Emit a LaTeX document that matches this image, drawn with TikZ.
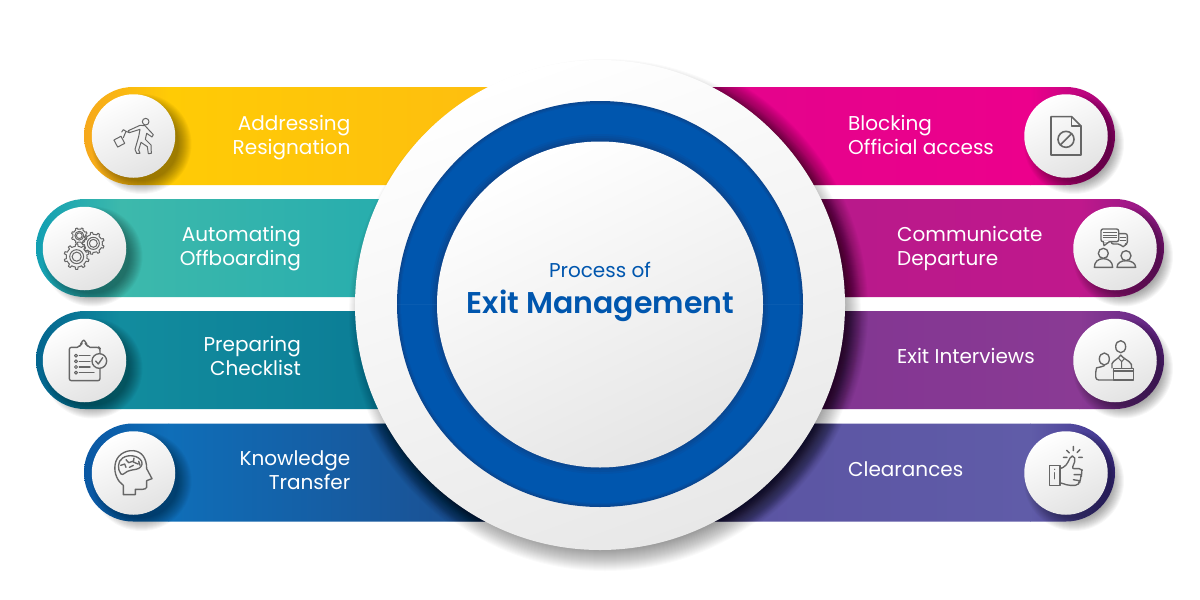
\documentclass[tikz,border=0pt]{standalone}
\usepackage{fontspec}
\setmainfont{Poppins}[BoldFont={Poppins SemiBold}]
\usetikzlibrary{calc}
\definecolor{iconc}{HTML}{666666}
\definecolor{ringblue}{HTML}{0056AE}
\definecolor{ringdark}{HTML}{0A4690}
\tikzset{
  iconline/.style={draw=iconc,line width=1.35pt,line join=round,line cap=round,fill=none},
  iconthin/.style={draw=iconc,line width=1pt,line join=round,line cap=round,fill=none},
  iconcircle/.style={circle,inner sep=0pt,minimum size=83.5pt,top color=white,bottom color=black!11,shading angle=25},
  lefttext/.style={anchor=base east,inner sep=0pt,text=white,font=\fontsize{20}{24}\selectfont},
  righttext/.style={anchor=base west,inner sep=0pt,text=white,font=\fontsize{20}{24}\selectfont},
  crop/.style={x=.33333pt,y=-.33333pt}
}
\newcommand{\softshadow}[5]{% x y r steps opacity
  \foreach \k in {1,...,#4}{
    \pgfmathsetmacro{\rr}{#3+\k}
    \fill[black,opacity=#5] (#1,#2) circle[radius=\rr];
  }}
\newcommand{\leftbar}[5]{% top xl cap c1 c2
  \begin{scope}
    \definecolor{barcap}{HTML}{#3}\definecolor{barone}{HTML}{#4}\definecolor{bartwo}{HTML}{#5}
    \clip ({#2+49},#1) arc[start angle=-90,end angle=-270,radius=49] -- (620,{#1+98}) -- (620,#1) -- cycle;
    \shade[left color=barcap,right color=barone] (#2,#1) rectangle ({#2+85},{#1+98});
    \shade[left color=barone,right color=bartwo] ({#2+84.5},#1) rectangle (620,{#1+98});
  \end{scope}}
\newcommand{\rightbar}[5]{% top xr cap c1 c2
  \begin{scope}
    \definecolor{barcap}{HTML}{#3}\definecolor{barone}{HTML}{#4}\definecolor{bartwo}{HTML}{#5}
    \clip ({#2-49},#1) arc[start angle=-90,end angle=90,radius=49] -- (580,{#1+98}) -- (580,#1) -- cycle;
    \shade[right color=barcap,left color=barone] ({#2-85},#1) rectangle (#2,{#1+98});
    \shade[right color=barone,left color=bartwo] (580,#1) rectangle ({#2-84.5},{#1+98});
  \end{scope}}
\newcommand{\gearshape}[4]{% cx cy r n
  \begin{scope}[shift={(#1,#2)}]
    \pgfmathsetmacro{\rin}{#3*.82}
    \pgfmathsetmacro{\st}{360/#4}
    \draw[iconthin] (0:\rin)
      \foreach \i in {1,...,#4}{
        -- ({(\i-1)*\st+.28*\st}:\rin) -- ({(\i-1)*\st+.36*\st}:#3) -- ({(\i-1)*\st+.64*\st}:#3) -- ({(\i-1)*\st+.72*\st}:\rin) -- ({\i*\st}:\rin)
      } -- cycle;
    \draw[iconthin] (0,0) circle[radius=#3*.55];
    \draw[iconthin] (0,0) circle[radius=#3*.36];
  \end{scope}}
\begin{document}
\begin{tikzpicture}[x=1pt,y=-1pt]
\useasboundingbox (0,0) rectangle (1200,600);
\fill[white] (0,0) rectangle (1200,600);

% bars
\leftbar{87}{84}{F6A81C}{FFCB05}{FDB913}
\leftbar{199}{36}{129FB2}{3DB9AC}{14A2AE}
\leftbar{311}{36}{03658F}{128C9E}{056F8E}
\leftbar{423.5}{84}{0A57A3}{0F6EB8}{21407F}
\rightbar{87}{1115}{A00A78}{EC008C}{E0058C}
\rightbar{199}{1164}{8A1A84}{C0188C}{B01A8A}
\rightbar{311}{1164}{5F2684}{8A3A94}{7A3290}
\rightbar{423.5}{1115}{413390}{605CA8}{5850A0}

% extra darkening of the bars next to the central disc
\begin{scope}
  \clip (600,87) rectangle (900,185) (600,199) rectangle (900,297) (600,311) rectangle (900,409) (600,423.5) rectangle (900,521.5) (340,423.5) rectangle (600,521.5);
  \softshadow{604}{310}{240}{24}{.028}
\end{scope}

% soft shadows of the icon discs
\softshadow{141.5}{144}{36}{14}{.032}
\softshadow{92.5}{256.5}{36}{14}{.032}
\softshadow{92.5}{368.5}{36}{14}{.032}
\softshadow{141.5}{481}{36}{14}{.032}
\softshadow{1074}{144}{36}{14}{.032}
\softshadow{1123}{256.5}{36}{14}{.032}
\softshadow{1123}{368.5}{36}{14}{.032}
\softshadow{1074}{481}{36}{14}{.032}

% icon discs
\node[iconcircle] (disc1) at (133.5,136) {};
\node[iconcircle] (disc2) at (84.5,248.5) {};
\node[iconcircle] (disc3) at (84.5,360.5) {};
\node[iconcircle] (disc4) at (133.5,473) {};
\node[iconcircle] (disc5) at (1066,136) {};
\node[iconcircle] (disc6) at (1115,248.5) {};
\node[iconcircle] (disc7) at (1115,360.5) {};
\node[iconcircle] (disc8) at (1066,473) {};

% labels
\node[lefttext] (t1a) at (350.5,130) {Addressing};
\node[lefttext] (t1b) at (350.5,154) {Resignation};
\node[lefttext] (t2a) at (301,241) {Automating};
\node[lefttext] (t2b) at (301,265) {Offboarding};
\node[lefttext] (t3a) at (301,351) {Preparing};
\node[lefttext] (t3b) at (301,375) {Checklist};
\node[lefttext] (t4a) at (350.5,465) {Knowledge};
\node[lefttext] (t4b) at (350.5,489) {Transfer};
\node[righttext] (t5a) at (848,130) {Blocking};
\node[righttext] (t5b) at (848,154) {Official access};
\node[righttext] (t6a) at (897,241) {Communicate};
\node[righttext] (t6b) at (897,265) {Departure};
\node[righttext] (t7a) at (897,363) {Exit Interviews};
\node[righttext] (t8a) at (848,476) {Clearances};

% centre
\softshadow{605}{315}{234}{22}{.02}
\node[circle,inner sep=0pt,minimum size=490pt,top color=white,bottom color=black!9,shading angle=20] (outerdisc) at (600,305) {};
\node[circle,inner sep=0pt,minimum size=406pt,fill=ringdark] (ringdisc) at (600,304) {};
\foreach \r/\m in {202/25,201/50,200/75,199/100}{
  \fill[ringblue!\m!ringdark] (ringdisc.center) circle[radius=\r];
}
\foreach \r/\m in {170/75,168/50,166/25,164.5/0}{
  \fill[ringblue!\m!ringdark] (ringdisc.center) circle[radius=\r];
}
\draw[ringblue!85!white,line width=.4pt,opacity=.25] (397,304) -- (437,304) (763,304) -- (803,304);
\node[circle,inner sep=0pt,minimum size=326pt,top color=white,bottom color=black!10,shading angle=25] (innerdisc) at (600,304.5) {};
\node[anchor=base,inner sep=0pt,text=ringblue,font=\fontsize{20}{24}\selectfont] (ctitle) at (600,277) {Process of};
\node[anchor=base,inner sep=0pt,text=ringblue,font=\fontsize{30}{36}\selectfont\bfseries] (cname) at (600.5,313) {Exit Management};

% icon 1: walking man with suitcase
\begin{scope}[shift={(90,90)},crop]
  \draw[iconthin] (167,95) circle[radius=10];
  \draw[iconthin] (118,128) -- (115,122) -- (150,106) -- (165,107) -- (175,118) -- (190,134) -- (186,141) -- (170,130) -- (166,148) -- (183,165) -- (184,190) -- (175,191) -- (172,170) -- (153,157) -- (146,180) -- (150,190) -- (140,190) -- (135,178) -- (146,140) -- (150,118) -- cycle;
  \draw[iconthin,rotate around={28:(88,155)}] (76,143) rectangle (100,167);
  \draw[iconthin] (100,143) -- (108,124) -- (100,119) -- (95,126) (108,124) -- (118,128);
\end{scope}

% icon 2: gears
\begin{scope}[shift={(40,205)},crop]
  \gearshape{110}{155}{38}{10}
  \gearshape{160}{115}{33}{9}
  \gearshape{118}{92}{24}{8}
\end{scope}

% icon 3: checklist
\begin{scope}[shift={(40,315)},crop]
  \draw[iconline,rounded corners=2pt] (180,160) -- (180,197) -- (88,197) -- (88,97) -- (118,97) -- (121,88) -- (127,85) .. controls (127,74) and (135,74) .. (135,85) -- (141,88) -- (144,97) -- (177,97) -- (180,100) -- (180,116);
  \draw[iconline] (178,138) circle[radius=22];
  \draw[iconline] (167,138) -- (175,147) -- (188,128);
  \foreach \y/\e in {122/150,139/150,156/150,173/162}{
    \draw[iconline] (118,\y) -- (\e,\y);
    \draw[iconthin] (108,\y) circle[radius=4.5];
  }
\end{scope}

% icon 4: head with brain
\begin{scope}[shift={(90,428)},crop]
  \draw[iconline] (100,200) -- (100,172) .. controls (82,160) and (72,135) .. (75,112) .. controls (78,82) and (105,66) .. (130,68) .. controls (155,70) and (170,90) .. (170,122) -- (186,152) -- (170,158) -- (170,178) .. controls (168,186) and (150,184) .. (136,184) -- (136,200) -- cycle;
  \draw[iconline] (93,138) .. controls (82,125) and (82,100) .. (98,90) .. controls (115,78) and (145,82) .. (155,100) .. controls (160,112) and (150,122) .. (138,124) .. controls (125,126) and (112,128) .. (105,135) .. controls (100,140) and (96,140) .. (93,138) -- cycle;
  \draw[iconline] (92,112) -- (104,108) -- (108,118) (108,95) -- (116,104) -- (128,100) (132,90) -- (130,102) -- (144,108) (118,118) -- (130,112) (146,100) -- (150,112);
\end{scope}

% icon 5: blocked document
\begin{scope}[shift={(1020,90)},crop]
  \draw[iconline,line width=1.6pt] (93,80) -- (155,80) -- (183,108) -- (183,195) -- (93,195) -- cycle;
  \draw[iconline] (155,80) -- (155,108) -- (183,108);
  \draw[iconline,line width=1.6pt] (138,148) circle[radius=24];
  \draw[iconline,line width=1.6pt] (121,165) -- (155,131);
\end{scope}

% icons 6 and 7
\begin{scope}[shift={(1070,205)},crop]
  % bubbles
  \draw[iconline,rounded corners=2pt] (93,72) rectangle (146,110);
  \fill[white] (102,107.5) rectangle (116,112);
  \draw[iconline] (100,110) -- (102,122) -- (118,110);
  \foreach \y in {82,90,98}{\draw[iconthin] (100,\y) -- (140,\y);}
  \draw[iconline,rounded corners=2pt] (146,86) -- (172,86) -- (172,117) -- (164,117) -- (161,128) -- (150,117) -- (124,117) -- (124,110);
  \foreach \y in {97,105}{\draw[iconthin] (150,\y) -- (167,\y);}
  % people
  \draw[iconline] (100,145) circle[radius=15];
  \draw[iconline] (73,187) .. controls (73,170) and (85,161) .. (100,161) .. controls (115,161) and (128,170) .. (128,187) -- cycle;
  \draw[iconline] (168,152) circle[radius=15];
  \draw[iconline] (141,187) .. controls (141,174) and (153,167) .. (168,167) .. controls (183,167) and (197,174) .. (197,187) -- cycle;
  % interview
  \draw[iconline] (103,462) ellipse[x radius=15,y radius=18];
  \draw[iconline,rounded corners=3pt] (130,525) -- (77,525) -- (77,497) .. controls (80,488) and (95,486) .. (103,482);
  \draw[iconline] (130,490) rectangle (190,525);
  \draw[iconline] (130,498) -- (190,498);
  \draw[iconline] (152,425) ellipse[x radius=15,y radius=18];
  \draw[iconline] (126,489) -- (126,476) .. controls (130,466) and (145,462) .. (152,450) .. controls (160,462) and (178,466) .. (184,478) -- (185,489);
  \draw[iconthin] (155,470) -- (155,488) (146,460) -- (155,470) -- (164,460);
\end{scope}

% icon 8: thumbs up
\begin{scope}[shift={(1020,428)},crop]
  \draw[iconline] (88,112) rectangle (120,172);
  \fill[iconc] (104,124) circle[radius=2];
  \draw[iconline] (104,134) -- (104,152);
  \draw[iconline,rounded corners=2pt] (120,122) -- (135,116) -- (148,96) -- (152,84) -- (162,84) -- (166,96) -- (156,122) -- (184,122) -- (188,130) -- (182,140) -- (185,148) -- (178,158) -- (179,164) -- (172,172) -- (145,172) -- (120,164);
  \draw[iconline] (162,140) -- (182,140) (160,155) -- (178,158);
  \draw[iconline] (140,67) -- (148,75) (160,55) -- (160,68) (180,65) -- (171,74) (130,88) -- (141,88) (176,88) -- (187,88);
\end{scope}
\end{tikzpicture}
\end{document}
